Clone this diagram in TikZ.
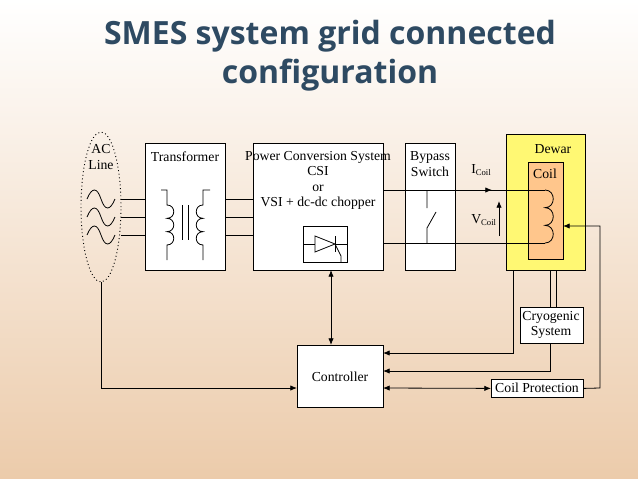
\documentclass[tikz,border=0pt]{standalone}
\usepackage{fontspec}
\setmainfont{Liberation Serif}
\newfontfamily\titlefont{Open Sans}
\usetikzlibrary{arrows.meta,shapes.geometric}
\definecolor{titlec}{HTML}{2E4A62}
\begin{document}
\begin{tikzpicture}[x=0.75pt,y=-0.75pt,
  box/.style={draw,line width=0.6pt,fill=white,inner sep=0pt},
  wire/.style={line width=0.6pt},
  arr/.style={wire,-{Latex[length=5pt,width=4pt]}},
  darr/.style={wire,{Latex[length=5pt,width=4pt]}-{Latex[length=5pt,width=4pt]}},
  lab/.style={font=\fontsize{10.3}{11.5}\selectfont,align=center,inner sep=0pt}]
\shade[top color=white,middle color=white!96!orange,bottom color=white!85!orange!70!brown] (0,0) rectangle (638,478);
\useasboundingbox (0,0) rectangle (638,478);
\node[font=\titlefont\bfseries\fontsize{24}{29}\selectfont,text=titlec,align=center] (title) at (330,56) {SMES system grid connected\\configuration};
% AC line
\node[draw,dotted,ellipse,minimum width=40*0.75pt,minimum height=150*0.75pt,inner sep=0,line width=0.7pt] (ac) at (101,207) {};
\node[lab] (actxt) at (101,157) {AC\\Line};
\foreach \y in {199,217,235}{\draw[wire] (87,\y) .. controls (92,\y-12) and (97,\y-12) .. (101,\y) .. controls (105,\y+12) and (110,\y+12) .. (115,\y);}
% boxes
\node[box,minimum width=80*0.75pt,minimum height=127*0.75pt,anchor=north west] (tr) at (145,143) {};
\node[lab] at (185,157) {Transformer};
\node[box,minimum width=130*0.75pt,minimum height=127*0.75pt,anchor=north west] (pcs) at (253,143) {};
\node[lab,anchor=north] at (318,151) {Power Conversion System\\CSI\\or\\VSI + dc-dc chopper};
\node[box,minimum width=50*0.75pt,minimum height=127*0.75pt,anchor=north west] (bp) at (405,143) {};
\node[lab] at (430,164) {Bypass\\Switch};
\node[draw,line width=0.6pt,fill=yellow!55,inner sep=0pt,minimum width=79*0.75pt,minimum height=136*0.75pt,anchor=north west] (dw) at (506,134) {};
\node[lab] at (553,149) {Dewar};
\node[draw,line width=0.6pt,fill=orange!45,inner sep=0pt,minimum width=35*0.75pt,minimum height=97*0.75pt,anchor=north west] (coil) at (528,162) {};
\node[lab] at (545,174) {Coil};
% wires
\foreach \y in {199,217,235}{\draw[wire] (ac.east|-0,\y) -- (tr.west|-0,\y); \draw[wire] (tr.east|-0,\y) -- (pcs.west|-0,\y);}
\draw[wire] (pcs.east|-0,190) -- (545,190);
\draw[wire] (pcs.east|-0,243) -- (545,243);
\draw[wire,-{Latex[length=5pt,width=4pt]}] (470,190) -- (492,190);
\draw[arr] (499,236) -- (499,201);
\node[lab,anchor=west] at (471,170) {I\textsubscript{\fontsize{6.5}{7}\selectfont Coil}};
\node[lab,anchor=west] at (471,220) {V\textsubscript{\fontsize{6.5}{7}\selectfont Coil}};
% transformer symbol
\draw[wire] (161,190) -- (167,190) -- (167,205)
  \foreach \k in {0,1,2}{ .. controls +(9,0) and +(9,0) .. ++(0,13.33) } -- (167,260);
\draw[wire] (210,190) -- (203,190) -- (203,205)
  \foreach \k in {0,1,2}{ .. controls +(-9,0) and +(-9,0) .. ++(0,13.33) } -- (203,260);
\draw[wire] (182,205) -- (182,240) (188,205) -- (188,240);
% coil
\draw[wire] (545,190) \foreach \k in {0,1,2}{ .. controls +(11,0) and +(11,0) .. ++(0,17.67) };
% thyristor
\node[draw,line width=0.6pt,inner sep=0pt,minimum width=44*0.75pt,minimum height=36*0.75pt,anchor=north west] (thy) at (303,226) {};
\draw[wire] (303,244) -- (315,244) (335,244) -- (347,244);
\draw[wire] (315,236) -- (315,252) -- (335,244) -- cycle;
\draw[wire] (335,236) -- (335,252);
\draw[wire] (335,244) -- (341,256) -- (341,262);
% switch
\draw[wire] (427,190) -- (427,208) (427,243) -- (427,228) -- (436,212);
% controller etc
\node[box,minimum width=86*0.75pt,minimum height=62*0.75pt,anchor=north west] (ctl) at (297,345) {};
\node[lab] at (340,377) {Controller};
\node[box,minimum width=63*0.75pt,minimum height=36*0.75pt,anchor=north west] (cry) at (520,307) {};
\node[lab] at (551,325) {Cryogenic\\System};
\node[box,minimum width=92*0.75pt,minimum height=18*0.75pt,anchor=north west] (cp) at (491,379) {};
\node[lab] at (537,388) {Coil Protection};
\draw[wire] (550,270) -- (550,307) (556,270) -- (556,307);
\draw[darr] (331,270) -- (331,345);
\draw[arr] (513,270) -- (513,353) -- (383,353);
\draw[arr] (550,343) -- (550,371) -- (383,371);
\draw[darr] (383,388) -- (cp.west);
\draw[arr] (cp.east) -- (600,388) -- (600,226) -- (563,226);
\draw[arr] (101,282) -- (101,388) -- (297,388);
\end{tikzpicture}
\end{document}
